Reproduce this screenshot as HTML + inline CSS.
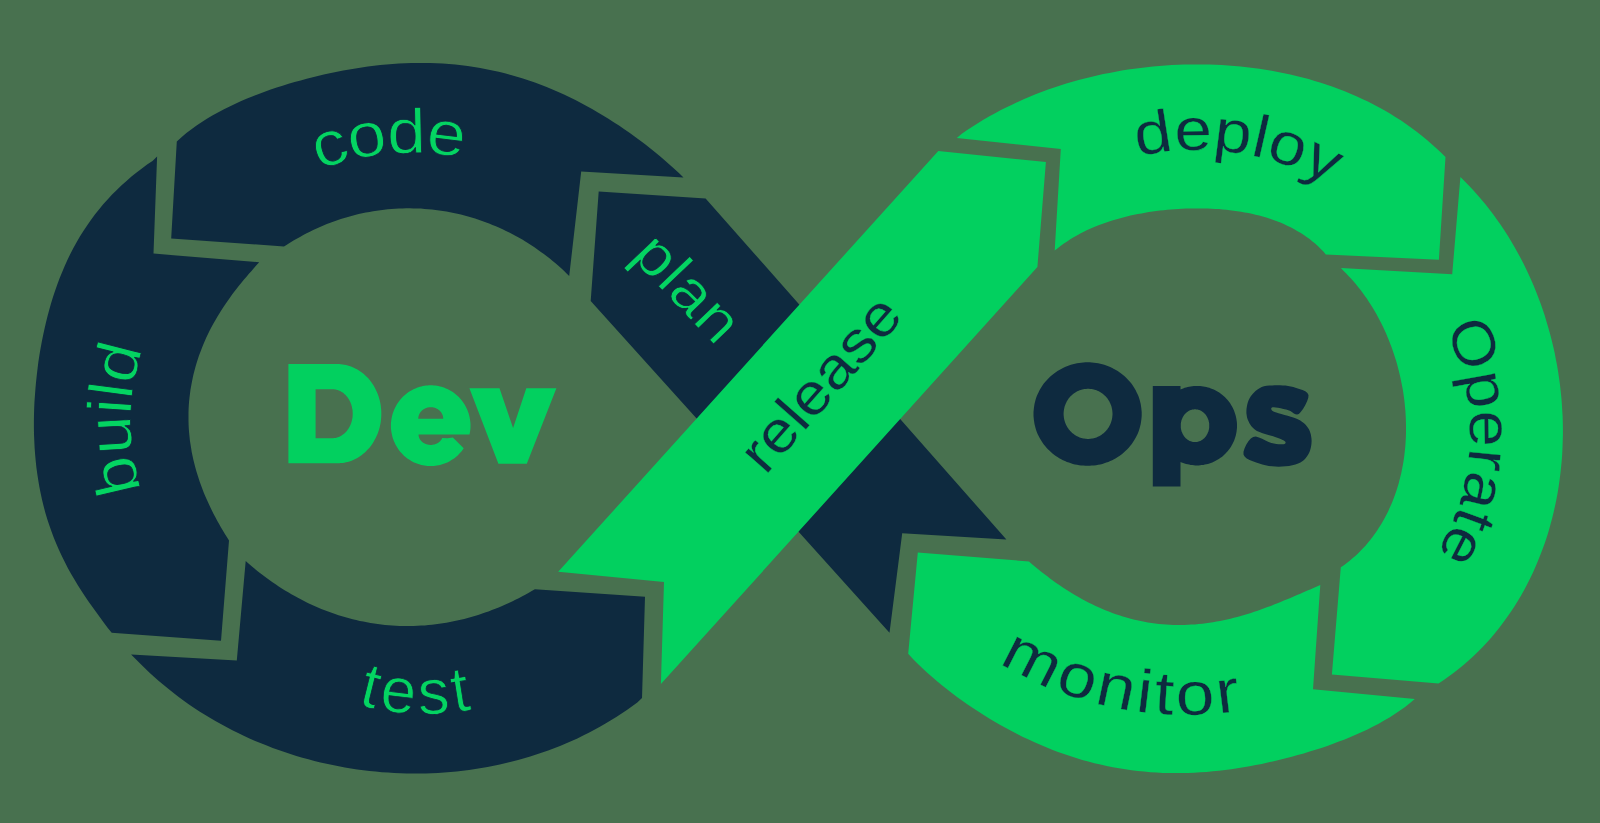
<!DOCTYPE html>
<html><head><meta charset="utf-8"><style>
html,body{margin:0;padding:0;background:#48714f;width:1600px;height:823px;overflow:hidden}
svg{display:block;font-family:"Liberation Sans",sans-serif}
</style></head><body>
<svg width="1600" height="823" viewBox="0 0 1600 823">
<rect width="1600" height="823" fill="#48714f"/>
<path fill="#0e2a3f" d="M157.1 156.4 L153.5 253.6 L259.2 262.3 L256.6 265.1 L254 268 L251.5 270.9 L248.9 273.7 L246.5 276.7 L244 279.6 L241.6 282.5 L239.1 285.5 L236.8 288.5 L234.4 291.6 L232.1 294.6 L229.9 297.7 L227.6 300.9 L225.5 304 L223.3 307.2 L221.2 310.5 L219.2 313.7 L217.2 317 L215.2 320.4 L213.3 323.7 L211.5 327.1 L209.7 330.6 L208 334 L206.3 337.6 L204.8 341.1 L203.2 344.7 L201.8 348.3 L200.4 351.9 L199 355.6 L197.8 359.3 L196.6 363 L195.5 366.7 L194.5 370.5 L193.5 374.3 L192.7 378.1 L191.9 381.9 L191.2 385.8 L190.5 389.6 L190 393.5 L189.5 397.4 L189.1 401.3 L188.8 405.2 L188.6 409.1 L188.5 413 L188.5 416.9 L188.5 420.9 L188.6 424.8 L188.8 428.7 L189.1 432.6 L189.5 436.5 L189.9 440.4 L190.5 444.2 L191.1 448.1 L191.7 451.9 L192.5 455.8 L193.3 459.6 L194.3 463.4 L195.2 467.1 L196.3 470.9 L197.4 474.6 L198.6 478.3 L199.8 482 L201.1 485.6 L202.5 489.3 L203.9 492.9 L205.4 496.4 L207 500 L208.6 503.5 L210.2 507 L211.9 510.5 L213.6 513.9 L215.4 517.3 L217.2 520.7 L219.1 524.1 L221 527.4 L223 530.7 L224.9 534 L227 537.3 L229 540.6 L221 640.7 L111.7 632.7 L107.6 627.7 L103.7 622.5 L99.9 617.3 L96.1 612 L92.3 606.7 L88.5 601.4 L84.8 596 L81.2 590.5 L77.7 585 L74.3 579.3 L71 573.7 L67.8 567.9 L64.8 562 L61.8 556.1 L59 550.1 L56.4 544.1 L53.9 538 L51.6 531.8 L49.4 525.5 L47.3 519.2 L45.4 512.9 L43.7 506.5 L42.1 500 L40.7 493.5 L39.4 487 L38.3 480.5 L37.3 473.9 L36.4 467.4 L35.7 460.8 L35.1 454.2 L34.6 447.6 L34.3 440.9 L34 434.3 L33.9 427.7 L33.9 421.1 L34 414.5 L34.2 407.8 L34.5 401.2 L35 394.6 L35.5 388 L36.1 381.4 L36.8 374.9 L37.6 368.3 L38.4 361.7 L39.4 355.2 L40.5 348.7 L41.7 342.2 L43 335.7 L44.4 329.2 L45.9 322.7 L47.5 316.3 L49.2 309.9 L51 303.5 L53 297.1 L55.1 290.8 L57.3 284.6 L59.6 278.3 L62.1 272.2 L64.7 266.1 L67.4 260 L70.3 254 L73.4 248.1 L76.6 242.3 L79.9 236.6 L83.4 230.9 L87.1 225.4 L90.9 219.9 L94.9 214.6 L99 209.4 L103.2 204.3 L107.6 199.4 L112.1 194.5 L116.8 189.9 L121.6 185.3 L126.5 180.9 L131.5 176.6 L136.6 172.5 L141.9 168.5 L147.1 164.6 L152.5 160.9 Z"/>
<path fill="#0e2a3f" d="M284 246.5 L171.2 238.5 L176.8 141.5 L181.5 137.2 L186.4 133.1 L191.5 129.2 L196.6 125.5 L201.9 121.9 L207.3 118.5 L212.8 115.3 L218.4 112.2 L224 109.2 L229.7 106.4 L235.4 103.7 L241.2 101.1 L247.1 98.6 L252.9 96.2 L258.8 93.9 L264.7 91.7 L270.7 89.6 L276.7 87.6 L282.6 85.7 L288.6 83.8 L294.6 82.1 L300.7 80.4 L306.7 78.8 L312.8 77.2 L318.8 75.7 L324.9 74.3 L331 73 L337.1 71.7 L343.2 70.6 L349.4 69.5 L355.5 68.4 L361.7 67.5 L367.9 66.6 L374.1 65.8 L380.3 65.1 L386.5 64.5 L392.7 64 L398.9 63.6 L405.2 63.3 L411.4 63.1 L417.7 63 L423.9 63 L430.2 63.1 L436.5 63.3 L442.7 63.6 L449 64 L455.3 64.6 L461.5 65.3 L467.7 66.1 L474 67 L480.2 68 L486.3 69.2 L492.5 70.4 L498.7 71.8 L504.8 73.3 L510.9 75 L516.9 76.7 L522.9 78.6 L528.9 80.5 L534.9 82.6 L540.8 84.8 L546.6 87.1 L552.5 89.5 L558.3 92 L564 94.6 L569.7 97.3 L575.4 100.1 L581 103 L586.5 106 L592.1 109.1 L597.5 112.2 L603 115.5 L608.4 118.8 L613.7 122.2 L619 125.6 L624.3 129.2 L629.5 132.8 L634.6 136.5 L639.7 140.3 L644.8 144.1 L649.8 148 L654.8 152 L659.7 156 L664.6 160.2 L669.4 164.4 L674.2 168.7 L678.9 173 L683.5 177.5 L581.2 171.4 L569.2 276.1 L566.6 273.4 L563.9 270.8 L561.2 268.3 L558.4 265.8 L555.5 263.3 L552.7 261 L549.8 258.6 L546.8 256.3 L543.9 254.1 L540.9 251.9 L537.8 249.7 L534.8 247.6 L531.7 245.5 L528.6 243.5 L525.4 241.6 L522.3 239.6 L519.1 237.8 L515.8 236 L512.6 234.2 L509.3 232.5 L506 230.9 L502.6 229.3 L499.3 227.8 L495.9 226.3 L492.5 224.9 L489.1 223.5 L485.6 222.2 L482.1 220.9 L478.6 219.7 L475.1 218.6 L471.6 217.5 L468.1 216.5 L464.5 215.5 L460.9 214.6 L457.4 213.8 L453.7 213 L450.1 212.2 L446.5 211.6 L442.9 211 L439.2 210.4 L435.6 209.9 L431.9 209.5 L428.2 209.2 L424.6 208.9 L420.9 208.6 L417.2 208.5 L413.5 208.4 L409.8 208.3 L406.1 208.3 L402.5 208.4 L398.8 208.5 L395.1 208.7 L391.4 209 L387.7 209.3 L384.1 209.7 L380.4 210.2 L376.7 210.7 L373.1 211.2 L369.5 211.9 L365.8 212.6 L362.2 213.3 L358.6 214.1 L355 215 L351.4 215.9 L347.9 216.9 L344.3 218 L340.8 219.1 L337.3 220.3 L333.8 221.5 L330.3 222.8 L326.8 224.1 L323.4 225.5 L320 227 L316.6 228.5 L313.2 230.1 L309.9 231.7 L306.6 233.3 L303.3 235.1 L300 236.9 L296.7 238.7 L293.5 240.6 L290.3 242.5 L287.2 244.5 Z"/>
<path fill="#0e2a3f" d="M131.1 654.4 L236.8 660.4 L245.7 561 L248.5 563.6 L251.4 566.1 L254.4 568.5 L257.3 570.9 L260.3 573.3 L263.3 575.6 L266.3 577.8 L269.4 580 L272.5 582.2 L275.6 584.3 L278.7 586.4 L281.8 588.4 L285 590.4 L288.2 592.3 L291.4 594.2 L294.7 596.1 L297.9 597.8 L301.2 599.6 L304.5 601.3 L307.8 602.9 L311.1 604.5 L314.5 606 L317.9 607.5 L321.3 608.9 L324.7 610.2 L328.1 611.6 L331.6 612.8 L335.1 614 L338.5 615.2 L342 616.2 L345.5 617.3 L349.1 618.3 L352.6 619.2 L356.2 620 L359.7 620.9 L363.3 621.6 L366.9 622.3 L370.5 622.9 L374.1 623.5 L377.7 624 L381.3 624.5 L384.9 624.9 L388.5 625.2 L392.1 625.5 L395.8 625.7 L399.4 625.9 L403 626 L406.7 626 L410.3 626 L413.9 625.9 L417.6 625.8 L421.2 625.6 L424.8 625.4 L428.4 625.1 L432 624.7 L435.6 624.3 L439.2 623.8 L442.8 623.3 L446.4 622.7 L450 622 L453.5 621.3 L457.1 620.6 L460.6 619.8 L464.2 618.9 L467.7 618 L471.2 617 L474.7 616 L478.1 614.9 L481.6 613.8 L485.1 612.6 L488.5 611.4 L491.9 610.1 L495.3 608.8 L498.7 607.4 L502.1 606 L505.4 604.5 L508.8 603 L512.1 601.4 L515.4 599.8 L518.7 598.2 L521.9 596.5 L525.2 594.7 L528.4 592.9 L531.7 591.1 L534.9 589.2 L645 596.8 L642 698.1 L637.3 702.4 L632.1 706.2 L626.9 709.9 L621.6 713.4 L616.3 716.9 L610.9 720.3 L605.5 723.6 L599.9 726.7 L594.4 729.8 L588.8 732.8 L583.1 735.6 L577.4 738.4 L571.6 741 L565.8 743.5 L560 746 L554.1 748.3 L548.2 750.5 L542.2 752.6 L536.2 754.6 L530.2 756.5 L524.2 758.3 L518.1 760 L512.1 761.6 L506 763.1 L499.8 764.5 L493.7 765.8 L487.5 767 L481.4 768.1 L475.2 769.1 L469 769.9 L462.8 770.7 L456.6 771.4 L450.4 772 L444.1 772.5 L437.9 772.9 L431.7 773.2 L425.5 773.4 L419.2 773.5 L413 773.5 L406.8 773.4 L400.6 773.3 L394.3 773 L388.1 772.6 L381.9 772.2 L375.7 771.6 L369.5 770.9 L363.4 770.2 L357.2 769.4 L351 768.4 L344.9 767.4 L338.8 766.3 L332.7 765.1 L326.6 763.8 L320.5 762.4 L314.4 760.9 L308.4 759.3 L302.4 757.7 L296.4 755.9 L290.4 754 L284.5 752.1 L278.6 750 L272.7 747.9 L266.8 745.6 L261 743.3 L255.2 740.9 L249.5 738.4 L243.7 735.8 L238.1 733 L232.4 730.2 L226.8 727.3 L221.3 724.3 L215.8 721.2 L210.3 718.1 L204.9 714.8 L199.5 711.4 L194.2 707.9 L189 704.4 L183.8 700.7 L178.7 696.9 L173.6 693.1 L168.6 689.1 L163.7 685.1 L158.8 681 L154 676.8 L149.3 672.4 L144.7 668 L140.1 663.5 L135.6 659 Z"/>
<path fill="#0e2a3f" d="M598.7 191.5 L705.6 198.4 L1006.4 539.5 L902.2 533.2 L889.5 632.7 L590.7 300.9 Z"/>
<path fill="#02d05f" d="M938.3 150.9 L1045.9 162.1 L1037.4 267 L660.9 684.1 L664 582 L558.2 571.8 Z"/>
<path fill="#02d05f" d="M956.8 137.9 L1060.8 149 L1054.7 250.6 L1057.7 248.2 L1060.8 245.8 L1063.9 243.5 L1067.1 241.4 L1070.3 239.3 L1073.6 237.3 L1076.9 235.4 L1080.3 233.5 L1083.8 231.8 L1087.2 230.1 L1090.7 228.5 L1094.2 227 L1097.8 225.5 L1101.3 224.2 L1104.9 222.9 L1108.5 221.7 L1112.2 220.5 L1115.8 219.4 L1119.4 218.4 L1123.1 217.4 L1126.8 216.5 L1130.4 215.6 L1134.1 214.8 L1137.8 214.1 L1141.5 213.4 L1145.1 212.7 L1148.8 212.1 L1152.5 211.6 L1156.2 211.1 L1159.9 210.6 L1163.6 210.2 L1167.3 209.8 L1170.9 209.5 L1174.6 209.2 L1178.3 209 L1182 208.8 L1185.7 208.6 L1189.4 208.5 L1193.1 208.4 L1196.8 208.4 L1200.4 208.4 L1204.1 208.5 L1207.8 208.6 L1211.5 208.7 L1215.2 208.9 L1218.9 209.1 L1222.6 209.4 L1226.3 209.8 L1229.9 210.2 L1233.6 210.7 L1237.3 211.2 L1241 211.7 L1244.6 212.4 L1248.3 213.1 L1251.9 213.8 L1255.5 214.7 L1259.2 215.6 L1262.7 216.6 L1266.3 217.6 L1269.9 218.8 L1273.4 220 L1276.9 221.3 L1280.4 222.6 L1283.8 224.1 L1287.2 225.7 L1290.6 227.3 L1293.9 229 L1297.1 230.9 L1300.4 232.8 L1303.5 234.8 L1306.6 236.9 L1309.6 239.1 L1312.5 241.4 L1315.4 243.8 L1318.1 246.3 L1320.8 248.9 L1323.4 251.6 L1325.8 254.5 L1438.9 259.7 L1445.5 157 L1440.9 152.6 L1436.3 148.2 L1431.5 143.9 L1426.7 139.7 L1421.8 135.7 L1416.7 131.7 L1411.6 127.9 L1406.4 124.2 L1401.1 120.6 L1395.7 117.2 L1390.3 113.8 L1384.8 110.6 L1379.2 107.5 L1373.6 104.5 L1367.9 101.6 L1362.2 98.9 L1356.4 96.2 L1350.5 93.7 L1344.7 91.3 L1338.7 89 L1332.8 86.8 L1326.8 84.7 L1320.8 82.8 L1314.7 80.9 L1308.6 79.1 L1302.5 77.5 L1296.4 75.9 L1290.3 74.5 L1284.1 73.2 L1277.9 71.9 L1271.7 70.8 L1265.5 69.7 L1259.3 68.8 L1253.1 67.9 L1246.8 67.2 L1240.6 66.5 L1234.4 65.9 L1228.1 65.5 L1221.8 65.1 L1215.6 64.8 L1209.3 64.6 L1203.1 64.4 L1196.8 64.4 L1190.5 64.4 L1184.3 64.6 L1178 64.8 L1171.8 65.1 L1165.5 65.5 L1159.2 66 L1153 66.5 L1146.7 67.2 L1140.5 67.9 L1134.3 68.7 L1128 69.6 L1121.8 70.6 L1115.6 71.7 L1109.4 72.9 L1103.2 74.1 L1097 75.5 L1090.9 76.9 L1084.7 78.4 L1078.6 80.1 L1072.4 81.8 L1066.3 83.6 L1060.2 85.5 L1054.2 87.5 L1048.1 89.6 L1042.1 91.8 L1036.1 94.1 L1030.2 96.5 L1024.2 99 L1018.3 101.7 L1012.5 104.4 L1006.6 107.2 L1000.9 110.1 L995.1 113.2 L989.4 116.3 L983.8 119.6 L978.2 123 L972.7 126.5 L967.2 130 L961.8 133.8 Z"/>
<path fill="#02d05f" d="M1341 268 L1452.2 274.3 L1460.4 177 L1464.9 181.4 L1469.3 185.9 L1473.5 190.5 L1477.7 195.2 L1481.8 199.9 L1485.8 204.8 L1489.7 209.7 L1493.5 214.8 L1497.2 219.9 L1500.8 225 L1504.3 230.3 L1507.7 235.6 L1511 241 L1514.2 246.4 L1517.3 251.9 L1520.3 257.5 L1523.2 263.1 L1526 268.8 L1528.7 274.5 L1531.3 280.3 L1533.8 286.1 L1536.2 291.9 L1538.5 297.9 L1540.7 303.8 L1542.8 309.8 L1544.8 315.8 L1546.6 321.9 L1548.4 328 L1550.1 334.1 L1551.7 340.2 L1553.2 346.4 L1554.6 352.6 L1555.8 358.9 L1557 365.1 L1558.1 371.4 L1559 377.7 L1559.9 384 L1560.6 390.4 L1561.3 396.7 L1561.8 403.1 L1562.2 409.4 L1562.6 415.8 L1562.8 422.2 L1562.9 428.6 L1562.9 435 L1562.7 441.4 L1562.5 447.8 L1562.2 454.2 L1561.7 460.7 L1561.1 467.1 L1560.4 473.4 L1559.6 479.8 L1558.7 486.2 L1557.7 492.5 L1556.5 498.9 L1555.2 505.2 L1553.8 511.5 L1552.3 517.7 L1550.6 524 L1548.9 530.2 L1547 536.4 L1545 542.5 L1542.8 548.6 L1540.5 554.6 L1538.1 560.6 L1535.6 566.6 L1533 572.5 L1530.2 578.3 L1527.3 584.1 L1524.3 589.8 L1521.1 595.4 L1517.8 600.9 L1514.4 606.4 L1510.9 611.8 L1507.2 617.1 L1503.4 622.3 L1499.5 627.5 L1495.5 632.5 L1491.4 637.4 L1487.1 642.2 L1482.7 646.9 L1478.2 651.5 L1473.6 655.9 L1468.9 660.3 L1464.1 664.5 L1459.2 668.5 L1454.1 672.5 L1449 676.2 L1443.8 679.9 L1438.5 683.4 L1331.9 674.4 L1340.8 567.2 L1343.9 565.2 L1346.8 563 L1349.7 560.7 L1352.5 558.3 L1355.3 555.9 L1358 553.4 L1360.6 550.8 L1363.2 548.1 L1365.7 545.4 L1368.1 542.6 L1370.4 539.7 L1372.7 536.8 L1374.9 533.8 L1377 530.7 L1379 527.6 L1381 524.5 L1382.9 521.3 L1384.7 518 L1386.4 514.7 L1388.1 511.4 L1389.6 508.1 L1391.1 504.7 L1392.6 501.2 L1393.9 497.8 L1395.2 494.3 L1396.4 490.8 L1397.5 487.3 L1398.6 483.7 L1399.5 480.1 L1400.4 476.5 L1401.3 472.9 L1402 469.3 L1402.7 465.7 L1403.4 462 L1403.9 458.4 L1404.4 454.7 L1404.8 451.1 L1405.2 447.4 L1405.5 443.7 L1405.7 440.1 L1405.9 436.4 L1406 432.7 L1406 429.1 L1406 425.4 L1405.9 421.8 L1405.8 418.1 L1405.6 414.4 L1405.4 410.8 L1405 407.2 L1404.7 403.5 L1404.3 399.9 L1403.8 396.3 L1403.3 392.7 L1402.7 389.1 L1402 385.5 L1401.3 382 L1400.6 378.4 L1399.8 374.9 L1398.9 371.3 L1398 367.8 L1397.1 364.3 L1396.1 360.8 L1395 357.4 L1393.9 353.9 L1392.7 350.5 L1391.5 347.1 L1390.2 343.7 L1388.9 340.3 L1387.5 336.9 L1386.1 333.6 L1384.6 330.3 L1383.1 327 L1381.5 323.7 L1379.8 320.5 L1378.1 317.3 L1376.4 314.1 L1374.6 310.9 L1372.7 307.8 L1370.8 304.7 L1368.8 301.7 L1366.8 298.6 L1364.7 295.7 L1362.6 292.7 L1360.4 289.8 L1358.1 286.9 L1355.8 284.1 L1353.4 281.3 L1351 278.6 L1348.5 275.9 L1346 273.3 L1343.4 270.8 Z"/>
<path fill="#02d05f" d="M1029 561.5 L917.8 552.4 L908.2 653.7 L912.5 658.6 L917.2 663.3 L921.9 667.8 L926.7 672.3 L931.6 676.6 L936.5 680.8 L941.6 685 L946.7 689.1 L951.8 693 L957 696.9 L962.3 700.7 L967.6 704.4 L972.9 708 L978.3 711.6 L983.7 715.1 L989.2 718.4 L994.7 721.7 L1000.3 724.9 L1005.9 728 L1011.5 731.1 L1017.2 734 L1022.9 736.9 L1028.7 739.6 L1034.5 742.3 L1040.3 744.8 L1046.2 747.3 L1052.1 749.7 L1058 751.9 L1064 754.1 L1070 756.1 L1076.1 758 L1082.2 759.9 L1088.3 761.6 L1094.4 763.2 L1100.5 764.6 L1106.7 766 L1112.9 767.2 L1119.1 768.3 L1125.3 769.3 L1131.6 770.2 L1137.8 771 L1144.1 771.6 L1150.4 772.2 L1156.6 772.6 L1162.9 772.9 L1169.1 773 L1175.4 773.1 L1181.7 773.1 L1187.9 772.9 L1194.1 772.7 L1200.4 772.3 L1206.6 771.9 L1212.8 771.3 L1218.9 770.7 L1225.1 770 L1231.3 769.2 L1237.4 768.3 L1243.5 767.3 L1249.6 766.2 L1255.7 765.1 L1261.7 763.9 L1267.8 762.6 L1273.8 761.2 L1279.8 759.8 L1285.8 758.3 L1291.8 756.7 L1297.7 755.1 L1303.7 753.4 L1309.6 751.6 L1315.5 749.8 L1321.4 747.9 L1327.3 745.9 L1333.1 743.8 L1338.9 741.6 L1344.7 739.4 L1350.5 737 L1356.2 734.6 L1361.9 732 L1367.5 729.4 L1373.1 726.6 L1378.7 723.7 L1384.1 720.6 L1389.5 717.4 L1394.8 714.1 L1400 710.6 L1405.1 707 L1410 703.1 L1414.8 699.1 L1313 689.2 L1320.3 585 L1316.9 586.4 L1313.5 587.9 L1310.2 589.4 L1306.8 590.8 L1303.5 592.3 L1300.3 593.7 L1297 595.1 L1293.7 596.5 L1290.4 597.9 L1287.2 599.3 L1283.9 600.6 L1280.6 602 L1277.4 603.3 L1274.1 604.6 L1270.8 605.9 L1267.5 607.1 L1264.2 608.3 L1260.9 609.5 L1257.6 610.7 L1254.2 611.8 L1250.9 612.9 L1247.5 614 L1244.1 615 L1240.7 616 L1237.3 616.9 L1233.9 617.8 L1230.5 618.7 L1227 619.5 L1223.5 620.2 L1220 621 L1216.5 621.6 L1213 622.2 L1209.4 622.8 L1205.9 623.3 L1202.3 623.7 L1198.7 624.1 L1195.1 624.4 L1191.5 624.6 L1187.9 624.8 L1184.3 624.9 L1180.6 625 L1177 625 L1173.4 624.9 L1169.7 624.8 L1166.1 624.5 L1162.4 624.2 L1158.8 623.9 L1155.2 623.5 L1151.5 623 L1147.9 622.4 L1144.3 621.8 L1140.7 621 L1137.1 620.3 L1133.5 619.4 L1129.9 618.5 L1126.4 617.5 L1122.8 616.5 L1119.3 615.3 L1115.8 614.2 L1112.3 612.9 L1108.8 611.6 L1105.3 610.2 L1101.9 608.8 L1098.5 607.3 L1095.1 605.7 L1091.7 604.1 L1088.4 602.4 L1085.1 600.7 L1081.8 598.9 L1078.5 597.1 L1075.3 595.2 L1072 593.3 L1068.8 591.3 L1065.6 589.2 L1062.5 587.2 L1059.3 585 L1056.2 582.9 L1053.1 580.7 L1050 578.4 L1047 576.1 L1043.9 573.8 L1040.9 571.4 L1037.9 569 L1034.8 566.6 L1031.8 564.1 Z"/>
<text fill="#04d462" stroke="#0e2a3f" stroke-width="0.8" font-size="62.8" transform="translate(318.62 169.48) rotate(-16.86) scale(1.11 1)">c</text>
<text fill="#04d462" stroke="#0e2a3f" stroke-width="0.8" font-size="62.8" transform="translate(350.61 159.56) rotate(-9.24) scale(1.11 1)">o</text>
<text fill="#04d462" stroke="#0e2a3f" stroke-width="0.8" font-size="62.8" transform="translate(387.51 153.46) rotate(-1.19) scale(1.11 1)">d</text>
<text fill="#04d462" stroke="#0e2a3f" stroke-width="0.8" font-size="62.8" transform="translate(424.91 152.59) rotate(6.86) scale(1.11 1)">e</text>
<text fill="#04d462" stroke="#0e2a3f" stroke-width="0.8" font-size="62" transform="translate(140.9 490.53) rotate(-103.18) scale(1.12 1)">b</text>
<text fill="#04d462" stroke="#0e2a3f" stroke-width="0.8" font-size="62" transform="translate(132.15 453.37) rotate(-93.24) scale(1.12 1)">u</text>
<text fill="#04d462" stroke="#0e2a3f" stroke-width="0.8" font-size="62" transform="translate(130.65 415.32) rotate(-86.34) scale(1.12 1)">i</text>
<text fill="#04d462" stroke="#0e2a3f" stroke-width="0.8" font-size="62" transform="translate(131.58 400.54) rotate(-82.48) scale(1.12 1)">l</text>
<text fill="#04d462" stroke="#0e2a3f" stroke-width="0.8" font-size="62" transform="translate(132.79 385.69) rotate(-75.58) scale(1.12 1)">d</text>
<text fill="#04d462" stroke="#0e2a3f" stroke-width="0.8" font-size="64.2" transform="translate(357.53 704.76) rotate(13.96) scale(0.99 1)">t</text>
<text fill="#04d462" stroke="#0e2a3f" stroke-width="0.8" font-size="64.2" transform="translate(378.83 710.36) rotate(6.7) scale(0.99 1)">e</text>
<text fill="#04d462" stroke="#0e2a3f" stroke-width="0.8" font-size="64.2" transform="translate(418.4 714.54) rotate(-2.23) scale(0.99 1)">s</text>
<text fill="#04d462" stroke="#0e2a3f" stroke-width="0.8" font-size="64.2" transform="translate(454.5 712.46) rotate(-9.06) scale(0.99 1)">t</text>
<text fill="#0e2a3f" stroke="#02d05f" stroke-width="0.3" font-size="59.6" transform="translate(1137.37 156.04) rotate(-8.9) scale(1.13 1)">d</text>
<text fill="#0e2a3f" stroke="#02d05f" stroke-width="0.3" font-size="59.6" transform="translate(1174.63 150.22) rotate(-0.87) scale(1.13 1)">e</text>
<text fill="#0e2a3f" stroke="#02d05f" stroke-width="0.3" font-size="59.6" transform="translate(1212.33 149.65) rotate(7.16) scale(1.13 1)">p</text>
<text fill="#0e2a3f" stroke="#02d05f" stroke-width="0.3" font-size="59.6" transform="translate(1249.61 154.89) rotate(12.78) scale(1.13 1)">l</text>
<text fill="#0e2a3f" stroke="#02d05f" stroke-width="0.3" font-size="59.6" transform="translate(1264.48 157.7) rotate(18.4) scale(1.13 1)">o</text>
<text fill="#0e2a3f" stroke="#02d05f" stroke-width="0.3" font-size="59.6" transform="translate(1300.2 169.73) rotate(26.02) scale(1.13 1)">y</text>
<text fill="#0e2a3f" stroke="#02d05f" stroke-width="0.3" font-size="59.6" transform="translate(1445.43 327) rotate(68.91) scale(1.1 1)">O</text>
<text fill="#0e2a3f" stroke="#02d05f" stroke-width="0.3" font-size="59.6" transform="translate(1463.14 374.86) rotate(79.8) scale(1.1 1)">p</text>
<text fill="#0e2a3f" stroke="#02d05f" stroke-width="0.3" font-size="59.6" transform="translate(1469.6 410.8) rotate(88.88) scale(1.1 1)">e</text>
<text fill="#0e2a3f" stroke="#02d05f" stroke-width="0.3" font-size="59.6" transform="translate(1469.85 447.25) rotate(96.14) scale(1.1 1)">r</text>
<text fill="#0e2a3f" stroke="#02d05f" stroke-width="0.3" font-size="59.6" transform="translate(1467.96 469.06) rotate(103.4) scale(1.1 1)">a</text>
<text fill="#0e2a3f" stroke="#02d05f" stroke-width="0.3" font-size="59.6" transform="translate(1458.99 504.38) rotate(110.21) scale(1.1 1)">t</text>
<text fill="#0e2a3f" stroke="#02d05f" stroke-width="0.3" font-size="59.6" transform="translate(1453.18 521.72) rotate(117.02) scale(1.1 1)">e</text>
<text fill="#0e2a3f" stroke="#02d05f" stroke-width="0.3" font-size="60.9" transform="translate(998.34 663.15) rotate(26.92) scale(1.14 1)">m</text>
<text fill="#0e2a3f" stroke="#02d05f" stroke-width="0.3" font-size="60.9" transform="translate(1053.52 690.12) rotate(18.6) scale(1.14 1)">o</text>
<text fill="#0e2a3f" stroke="#02d05f" stroke-width="0.3" font-size="60.9" transform="translate(1093.52 703.36) rotate(11.83) scale(1.14 1)">n</text>
<text fill="#0e2a3f" stroke="#02d05f" stroke-width="0.3" font-size="60.9" transform="translate(1134.85 711.36) rotate(6.93) scale(1.14 1)">i</text>
<text fill="#0e2a3f" stroke="#02d05f" stroke-width="0.3" font-size="60.9" transform="translate(1153.55 713.6) rotate(3.59) scale(1.14 1)">t</text>
<text fill="#0e2a3f" stroke="#02d05f" stroke-width="0.3" font-size="60.9" transform="translate(1176.23 715.31) rotate(-1.62) scale(1.14 1)">o</text>
<text fill="#0e2a3f" stroke="#02d05f" stroke-width="0.3" font-size="60.9" transform="translate(1218.29 713.58) rotate(-7.14) scale(1.14 1)">r</text>
<text fill="#04d462" stroke="#0e2a3f" stroke-width="0.8" font-size="59.7" transform="translate(629.69 256.17) rotate(46.3) scale(1.1 1)">p</text>
<text fill="#04d462" stroke="#0e2a3f" stroke-width="0.8" font-size="59.7" transform="translate(655.27 282.95) rotate(46.3) scale(1.1 1)">l</text>
<text fill="#04d462" stroke="#0e2a3f" stroke-width="0.8" font-size="59.7" transform="translate(665.72 293.87) rotate(46.3) scale(1.1 1)">a</text>
<text fill="#04d462" stroke="#0e2a3f" stroke-width="0.8" font-size="59.7" transform="translate(691.3 320.65) rotate(46.3) scale(1.1 1)">n</text>
<text fill="#0e2a3f" stroke="#02d05f" stroke-width="0.3" font-size="58.1" transform="translate(765.16 475.98) rotate(-48.69) scale(1.11 1)">r</text>
<text fill="#0e2a3f" stroke="#02d05f" stroke-width="0.3" font-size="58.1" transform="translate(779.36 459.82) rotate(-48.69) scale(1.11 1)">e</text>
<text fill="#0e2a3f" stroke="#02d05f" stroke-width="0.3" font-size="58.1" transform="translate(803.08 432.83) rotate(-48.69) scale(1.11 1)">l</text>
<text fill="#0e2a3f" stroke="#02d05f" stroke-width="0.3" font-size="58.1" transform="translate(812.56 422.05) rotate(-48.69) scale(1.11 1)">e</text>
<text fill="#0e2a3f" stroke="#02d05f" stroke-width="0.3" font-size="58.1" transform="translate(836.28 395.06) rotate(-48.69) scale(1.11 1)">a</text>
<text fill="#0e2a3f" stroke="#02d05f" stroke-width="0.3" font-size="58.1" transform="translate(860 368.07) rotate(-48.69) scale(1.11 1)">s</text>
<text fill="#0e2a3f" stroke="#02d05f" stroke-width="0.3" font-size="58.1" transform="translate(881.32 343.81) rotate(-48.69) scale(1.11 1)">e</text>
<path fill="#02d05f" d="M344.4 462.7 L346 462.3 L347.7 461.9 L349.4 461.4 L351 460.9 L352.7 460.2 L354.3 459.5 L355.8 458.7 L357.4 457.9 L358.9 457 L360.4 456 L361.8 454.9 L363.2 453.8 L364.6 452.7 L365.9 451.4 L367.2 450.1 L368.5 448.8 L369.7 447.4 L370.8 445.9 L371.9 444.4 L372.9 442.9 L373.9 441.3 L374.8 439.6 L375.7 437.9 L376.5 436.2 L377.3 434.5 L378 432.7 L378.6 430.9 L379.2 429 L379.7 427.2 L380.1 425.3 L380.5 423.4 L380.8 421.5 L381 419.5 L381.2 417.6 L381.3 415.6 L381.3 413.7 L381.3 411.8 L381.2 409.8 L381 407.9 L380.8 405.9 L380.5 404 L380.1 402.1 L379.7 400.2 L379.2 398.4 L378.6 396.5 L378 394.7 L377.3 392.9 L376.5 391.2 L375.7 389.5 L374.8 387.8 L373.9 386.1 L372.9 384.5 L371.9 383 L370.8 381.5 L369.7 380 L368.5 378.6 L367.2 377.3 L365.9 376 L364.6 374.7 L363.2 373.6 L361.8 372.5 L360.4 371.4 L358.9 370.4 L357.4 369.5 L355.8 368.7 L354.3 367.9 L352.7 367.2 L351 366.5 L349.4 366 L347.7 365.5 L346 365.1 L344.4 364.7 L342.6 364.4 L340.9 364.3 L339.2 364.1 L337.5 364.1 L337.5 364.1 L288.4 364.1 L288.4 463.3 L337.5 463.3 L339.2 463.3 L340.9 463.1 L342.6 463ZM333.2 389.2 L334 389.3 L334.8 389.4 L335.6 389.5 L336.4 389.7 L337.1 389.9 L337.9 390.1 L338.7 390.4 L339.4 390.7 L340.2 391.1 L340.9 391.5 L341.6 391.9 L342.3 392.3 L343 392.8 L343.7 393.3 L344.3 393.9 L345 394.5 L345.6 395.1 L346.2 395.7 L346.8 396.4 L347.3 397.1 L347.8 397.8 L348.3 398.5 L348.8 399.3 L349.3 400.1 L349.7 400.9 L350.1 401.7 L350.5 402.6 L350.8 403.4 L351.2 404.3 L351.4 405.2 L351.7 406.1 L351.9 407 L352.1 408 L352.3 408.9 L352.5 409.9 L352.6 410.8 L352.6 411.8 L352.7 412.7 L352.7 413.7 L352.7 414.7 L352.6 415.6 L352.6 416.6 L352.5 417.5 L352.3 418.5 L352.1 419.4 L351.9 420.4 L351.7 421.3 L351.4 422.2 L351.2 423.1 L350.8 424 L350.5 424.8 L350.1 425.7 L349.7 426.5 L349.3 427.3 L348.8 428.1 L348.3 428.9 L347.8 429.6 L347.3 430.3 L346.8 431 L346.2 431.7 L345.6 432.3 L345 432.9 L344.3 433.5 L343.7 434.1 L343 434.6 L342.3 435.1 L341.6 435.5 L340.9 435.9 L340.2 436.3 L339.4 436.7 L338.7 437 L337.9 437.3 L337.1 437.5 L336.4 437.7 L335.6 437.9 L334.8 438 L334 438.1 L333.2 438.2 L332.4 438.2 L315.6 438.2 L315.6 389.2 L332.4 389.2ZM470 419.4 L469.7 417.8 L469.4 416.3 L469 414.7 L468.6 413.2 L468 411.7 L467.5 410.2 L466.8 408.8 L466.2 407.4 L465.4 406 L464.6 404.6 L463.8 403.3 L462.9 402 L462 400.7 L461 399.5 L459.9 398.3 L458.8 397.1 L457.7 396 L456.5 395 L455.3 394 L454.1 393 L452.8 392.1 L451.5 391.3 L450.1 390.5 L448.8 389.7 L447.4 389 L445.9 388.4 L444.5 387.8 L443 387.3 L441.5 386.8 L440 386.4 L438.5 386.1 L436.9 385.8 L435.4 385.6 L433.8 385.4 L432.3 385.3 L430.7 385.3 L429.1 385.3 L427.6 385.4 L426 385.6 L424.5 385.8 L422.9 386.1 L421.4 386.4 L419.9 386.8 L418.4 387.3 L416.9 387.8 L415.5 388.4 L414 389 L412.6 389.7 L411.3 390.5 L409.9 391.3 L408.6 392.1 L407.3 393 L406.1 394 L404.9 395 L403.7 396 L402.6 397.1 L401.5 398.3 L400.4 399.5 L399.4 400.7 L398.5 402 L397.6 403.3 L396.8 404.6 L396 406 L395.2 407.4 L394.6 408.8 L393.9 410.2 L393.4 411.7 L392.8 413.2 L392.4 414.7 L392 416.3 L391.7 417.8 L391.4 419.4 L391.2 421 L391 422.5 L390.9 424.1 L390.9 425.7 L390.9 427.3 L391 428.9 L391.2 430.4 L391.4 432 L391.7 433.6 L392 435.1 L392.4 436.7 L392.8 438.2 L393.4 439.7 L393.9 441.2 L394.6 442.6 L395.2 444 L396 445.4 L396.8 446.8 L397.6 448.1 L398.5 449.4 L399.4 450.7 L400.4 451.9 L401.5 453.1 L402.6 454.3 L403.7 455.4 L404.9 456.4 L406.1 457.4 L407.3 458.4 L408.6 459.3 L409.9 460.1 L411.3 460.9 L412.6 461.7 L414 462.4 L415.5 463 L416.9 463.6 L418.4 464.1 L419.9 464.6 L421.4 465 L422.9 465.3 L424.5 465.6 L426 465.8 L427.6 466 L429.1 466.1 L430.7 466.1 L432.3 466.1 L433.8 466 L435.4 465.8 L436.9 465.6 L438.5 465.3 L440 465 L441.5 464.6 L443 464.1 L444.5 463.6 L445.9 463 L447.4 462.4 L448.8 461.7 L450.1 460.9 L451.5 460.1 L452.8 459.3 L454.1 458.4 L455.3 457.4 L456.5 456.4 L457.7 455.4 L458.8 454.3 L459.9 453.1 L461 451.9 L462 450.7 L462.9 449.4 L463.7 448.2 L452.9 437.6 L447.4 438.2 L442.2 438.1 L442.2 438.1 L442 438.5 L441.8 438.9 L441.6 439.2 L441.4 439.6 L441.2 439.9 L440.9 440.3 L440.6 440.6 L440.3 440.9 L440 441.3 L439.7 441.6 L439.4 441.9 L439 442.1 L438.7 442.4 L438.3 442.7 L437.9 442.9 L437.5 443.1 L437.1 443.4 L436.7 443.6 L436.3 443.8 L435.9 443.9 L435.4 444.1 L435 444.3 L434.5 444.4 L434.1 444.5 L433.6 444.6 L433.1 444.7 L432.7 444.8 L432.2 444.8 L431.7 444.9 L431.2 444.9 L430.8 444.9 L430.3 444.9 L429.8 444.9 L429.3 444.8 L428.8 444.8 L428.4 444.7 L427.9 444.6 L427.4 444.5 L427 444.4 L426.5 444.3 L426.1 444.1 L425.6 443.9 L425.2 443.8 L424.8 443.6 L424.4 443.4 L424 443.1 L423.6 442.9 L423.2 442.7 L422.8 442.4 L422.5 442.1 L422.1 441.9 L421.8 441.6 L421.5 441.3 L421.2 440.9 L420.9 440.6 L420.6 440.3 L420.3 439.9 L420.1 439.6 L419.9 439.2 L419.7 438.9 L419.5 438.5 L419.3 438.1 L419.1 437.7 L419 437.3 L418.9 436.9 L418.8 436.5 L418.7 436.1 L418.6 435.7 L418.6 435.3 L418.6 434.9 L418.6 434.5 L431 434.5 L442.9 434.5 L469.5 434.5 L469.7 433.6 L470 432 L470.2 430.4 L470.4 428.9 L470.5 427.3 L470.5 425.7 L470.5 424.1 L470.4 422.5 L470.2 421ZM418.3 418.2 L418.3 417.8 L418.4 417.3 L418.5 416.9 L418.5 416.5 L418.6 416 L418.8 415.6 L418.9 415.1 L419.1 414.7 L419.2 414.3 L419.4 413.9 L419.7 413.5 L419.9 413.1 L420.1 412.7 L420.4 412.3 L420.7 411.9 L421 411.6 L421.3 411.2 L421.6 410.9 L421.9 410.6 L422.3 410.3 L422.7 410 L423 409.7 L423.4 409.4 L423.8 409.1 L424.2 408.9 L424.7 408.7 L425.1 408.5 L425.5 408.3 L426 408.1 L426.4 407.9 L426.9 407.8 L427.4 407.6 L427.8 407.5 L428.3 407.4 L428.8 407.3 L429.3 407.3 L429.8 407.2 L430.3 407.2 L430.8 407.2 L431.2 407.2 L431.7 407.2 L432.2 407.3 L432.7 407.3 L433.2 407.4 L433.7 407.5 L434.1 407.6 L434.6 407.8 L435.1 407.9 L435.5 408.1 L436 408.3 L436.4 408.5 L436.8 408.7 L437.3 408.9 L437.7 409.1 L438.1 409.4 L438.5 409.7 L438.8 410 L439.2 410.3 L439.6 410.6 L439.9 410.9 L440.2 411.2 L440.5 411.6 L440.8 411.9 L441.1 412.3 L441.4 412.7 L441.6 413.1 L441.8 413.5 L442.1 413.9 L442.3 414.3 L442.4 414.7 L442.6 415.1 L442.7 415.6 L442.9 416 L443 416.5 L443 416.9 L443.1 417.3 L443.2 417.8 L443.2 418.2 L443.2 418.7 L418.3 418.7ZM526.8 463.7 L556.4 388.2 L526.3 388.2 L513.1 428.1 L499.5 388.2 L469.4 388.2 L498.4 463.7Z"/>
<path fill="#0e2a3f" d="M1141.5 410 L1141.3 408 L1141 406 L1140.7 404 L1140.2 402 L1139.7 400 L1139.1 398.1 L1138.4 396.1 L1137.6 394.2 L1136.7 392.4 L1135.8 390.6 L1134.8 388.8 L1133.7 387 L1132.6 385.3 L1131.4 383.6 L1130.1 382 L1128.7 380.4 L1127.3 378.9 L1125.9 377.5 L1124.3 376 L1122.7 374.7 L1121.1 373.4 L1119.4 372.2 L1117.7 371 L1115.9 369.9 L1114 368.9 L1112.2 367.9 L1110.2 367.1 L1108.3 366.2 L1106.3 365.5 L1104.3 364.8 L1102.3 364.2 L1100.2 363.7 L1098.2 363.3 L1096.1 362.9 L1094 362.7 L1091.8 362.5 L1089.7 362.3 L1087.6 362.3 L1085.5 362.3 L1083.4 362.5 L1081.2 362.7 L1079.1 362.9 L1077 363.3 L1075 363.7 L1072.9 364.2 L1070.9 364.8 L1068.9 365.5 L1066.9 366.2 L1065 367.1 L1063 367.9 L1061.2 368.9 L1059.3 369.9 L1057.5 371 L1055.8 372.2 L1054.1 373.4 L1052.5 374.7 L1050.9 376 L1049.3 377.5 L1047.9 378.9 L1046.5 380.4 L1045.1 382 L1043.8 383.6 L1042.6 385.3 L1041.5 387 L1040.4 388.8 L1039.4 390.6 L1038.5 392.4 L1037.6 394.2 L1036.8 396.1 L1036.1 398.1 L1035.5 400 L1035 402 L1034.5 404 L1034.2 406 L1033.9 408 L1033.7 410 L1033.5 412 L1033.5 414.1 L1033.5 416.1 L1033.7 418.1 L1033.9 420.1 L1034.2 422.1 L1034.5 424.1 L1035 426.1 L1035.5 428.1 L1036.1 430 L1036.8 432 L1037.6 433.9 L1038.5 435.7 L1039.4 437.5 L1040.4 439.3 L1041.5 441.1 L1042.6 442.8 L1043.8 444.5 L1045.1 446.1 L1046.5 447.7 L1047.9 449.2 L1049.3 450.6 L1050.9 452.1 L1052.5 453.4 L1054.1 454.7 L1055.8 455.9 L1057.5 457.1 L1059.3 458.2 L1061.2 459.2 L1063 460.2 L1065 461 L1066.9 461.9 L1068.9 462.6 L1070.9 463.3 L1072.9 463.9 L1075 464.4 L1077 464.8 L1079.1 465.2 L1081.2 465.4 L1083.4 465.6 L1085.5 465.8 L1087.6 465.8 L1089.7 465.8 L1091.8 465.6 L1094 465.4 L1096.1 465.2 L1098.2 464.8 L1100.2 464.4 L1102.3 463.9 L1104.3 463.3 L1106.3 462.6 L1108.3 461.9 L1110.2 461 L1112.2 460.2 L1114 459.2 L1115.9 458.2 L1117.7 457.1 L1119.4 455.9 L1121.1 454.7 L1122.7 453.4 L1124.3 452.1 L1125.9 450.6 L1127.3 449.2 L1128.7 447.7 L1130.1 446.1 L1131.4 444.5 L1132.6 442.8 L1133.7 441.1 L1134.8 439.3 L1135.8 437.5 L1136.7 435.7 L1137.6 433.9 L1138.4 432 L1139.1 430 L1139.7 428.1 L1140.2 426.1 L1140.7 424.1 L1141 422.1 L1141.3 420.1 L1141.5 418.1 L1141.7 416.1 L1141.7 414.1 L1141.7 412ZM1112.4 415.8 L1112.3 416.8 L1112.2 417.8 L1112 418.7 L1111.8 419.7 L1111.6 420.6 L1111.3 421.6 L1111 422.5 L1110.6 423.4 L1110.3 424.3 L1109.8 425.2 L1109.4 426.1 L1108.9 426.9 L1108.4 427.8 L1107.8 428.6 L1107.3 429.4 L1106.6 430.1 L1106 430.9 L1105.3 431.6 L1104.6 432.2 L1103.9 432.9 L1103.2 433.5 L1102.4 434.1 L1101.6 434.7 L1100.8 435.2 L1100 435.7 L1099.2 436.2 L1098.3 436.6 L1097.4 437 L1096.5 437.4 L1095.6 437.7 L1094.7 438 L1093.8 438.2 L1092.8 438.4 L1091.9 438.6 L1090.9 438.7 L1090 438.8 L1089 438.9 L1088 438.9 L1087.1 438.9 L1086.1 438.8 L1085.2 438.7 L1084.2 438.6 L1083.3 438.4 L1082.3 438.2 L1081.4 438 L1080.5 437.7 L1079.6 437.4 L1078.7 437 L1077.8 436.6 L1076.9 436.2 L1076.1 435.7 L1075.3 435.2 L1074.5 434.7 L1073.7 434.1 L1072.9 433.5 L1072.2 432.9 L1071.5 432.2 L1070.8 431.6 L1070.1 430.9 L1069.5 430.1 L1068.8 429.4 L1068.3 428.6 L1067.7 427.8 L1067.2 426.9 L1066.7 426.1 L1066.3 425.2 L1065.8 424.3 L1065.5 423.4 L1065.1 422.5 L1064.8 421.6 L1064.5 420.6 L1064.3 419.7 L1064.1 418.7 L1063.9 417.8 L1063.8 416.8 L1063.7 415.8 L1063.6 414.8 L1063.6 413.9 L1063.6 412.9 L1063.7 411.9 L1063.8 410.9 L1063.9 409.9 L1064.1 409 L1064.3 408 L1064.5 407.1 L1064.8 406.1 L1065.1 405.2 L1065.5 404.3 L1065.8 403.4 L1066.3 402.5 L1066.7 401.6 L1067.2 400.8 L1067.7 399.9 L1068.3 399.1 L1068.8 398.3 L1069.5 397.6 L1070.1 396.8 L1070.8 396.1 L1071.5 395.5 L1072.2 394.8 L1072.9 394.2 L1073.7 393.6 L1074.5 393 L1075.3 392.5 L1076.1 392 L1076.9 391.5 L1077.8 391.1 L1078.7 390.7 L1079.6 390.3 L1080.5 390 L1081.4 389.7 L1082.3 389.5 L1083.3 389.3 L1084.2 389.1 L1085.2 389 L1086.1 388.9 L1087.1 388.8 L1088 388.8 L1089 388.8 L1090 388.9 L1090.9 389 L1091.9 389.1 L1092.8 389.3 L1093.8 389.5 L1094.7 389.7 L1095.6 390 L1096.5 390.3 L1097.4 390.7 L1098.3 391.1 L1099.2 391.5 L1100 392 L1100.8 392.5 L1101.6 393 L1102.4 393.6 L1103.2 394.2 L1103.9 394.8 L1104.6 395.5 L1105.3 396.1 L1106 396.8 L1106.6 397.6 L1107.3 398.3 L1107.8 399.1 L1108.4 399.9 L1108.9 400.8 L1109.4 401.6 L1109.8 402.5 L1110.3 403.4 L1110.6 404.3 L1111 405.2 L1111.3 406.1 L1111.6 407.1 L1111.8 408 L1112 409 L1112.2 409.9 L1112.3 410.9 L1112.4 411.9 L1112.5 412.9 L1112.5 413.9 L1112.5 414.8ZM1305.3 391.3 L1302.5 390 L1299.3 388.9 L1296.2 387.9 L1293.3 387.1 L1290.7 386.4 L1288.1 385.9 L1285.4 385.6 L1282.8 385.4 L1280.1 385.3 L1277.5 385.3 L1274.8 385.3 L1272.1 385.4 L1269.3 385.5 L1266.6 385.8 L1264 386.3 L1261.7 387.1 L1259.5 388.2 L1257.5 389.5 L1255.5 391 L1253.8 392.7 L1252.2 394.5 L1250.8 396.3 L1249.6 398.2 L1248.6 400.3 L1247.8 402.5 L1247.2 404.7 L1246.8 406.9 L1246.5 409 L1246.4 411.1 L1246.4 413.2 L1246.7 415.2 L1247 417.3 L1247.6 419.2 L1248.4 421.1 L1249.3 422.9 L1250.4 424.7 L1251.6 426.4 L1253.1 428 L1254.8 429.5 L1256.9 430.9 L1259.5 432.1 L1262.6 433.2 L1265.9 434.2 L1269.3 435.2 L1272.4 436 L1275.1 436.9 L1277.3 437.7 L1279.4 438.5 L1281.2 439.2 L1282.7 439.9 L1283.9 440.6 L1284.8 441.2 L1285.4 441.8 L1285.6 442.5 L1285.6 443 L1285.2 443.6 L1284.6 444 L1283.6 444.2 L1282.3 444.3 L1280.6 444.3 L1278.6 444.2 L1276.3 443.9 L1273.9 443.5 L1271.4 443 L1268.6 442 L1265.5 440.5 L1262.1 438.8 L1258.9 437.4 L1255.8 436.6 L1253.2 436.9 L1250.8 438.6 L1248.4 441.3 L1246.2 444.7 L1244.5 448.4 L1243.5 451.8 L1243.5 454.5 L1244.6 456.6 L1246.7 458.4 L1249.6 460 L1252.8 461.3 L1256.2 462.5 L1259.3 463.6 L1262.3 464.5 L1265.5 465.3 L1268.8 465.9 L1272.1 466.3 L1275.4 466.6 L1278.7 466.7 L1282 466.6 L1285.5 466.3 L1289 465.9 L1292.3 465.3 L1295.4 464.5 L1298.1 463.6 L1300.4 462.5 L1302.3 461.3 L1304 459.9 L1305.4 458.4 L1306.7 456.8 L1307.9 455.1 L1308.9 453.3 L1309.8 451.3 L1310.4 449.3 L1310.9 447.2 L1311.3 445.1 L1311.5 443 L1311.6 440.9 L1311.5 438.8 L1311.2 436.7 L1310.9 434.7 L1310.3 432.7 L1309.7 430.9 L1308.9 429.2 L1307.9 427.7 L1306.8 426.2 L1305.6 424.8 L1304.3 423.6 L1303 422.4 L1301.6 421.4 L1300.3 420.5 L1298.8 419.7 L1297.2 419 L1295.4 418.3 L1293.3 417.5 L1290.7 416.7 L1287.7 415.8 L1284.5 414.9 L1281.3 414.1 L1278.5 413.3 L1276.3 412.6 L1274.7 412 L1273.5 411.4 L1272.6 410.9 L1272 410.5 L1271.6 410 L1271.4 409.6 L1271.2 409.1 L1271.2 408.6 L1271.4 408 L1271.9 407.6 L1272.7 407.3 L1273.9 407.2 L1275.7 407.4 L1278 407.8 L1280.7 408.3 L1283.4 408.9 L1286.1 409.6 L1288.4 410.2 L1290.4 411 L1292.2 412.2 L1293.9 413.4 L1295.5 414.3 L1297.1 414.6 L1298.8 413.9 L1300.7 411.9 L1303 408.9 L1305.2 405.2 L1307.1 401.3 L1308.3 397.8 L1308.5 395 L1307.4 393ZM1186.1 463.9 L1187.7 464.3 L1189.2 464.6 L1190.7 464.9 L1192.3 465.1 L1193.9 465.3 L1195.4 465.4 L1197 465.4 L1198.6 465.4 L1200.1 465.3 L1201.7 465.1 L1203.3 464.9 L1204.8 464.6 L1206.3 464.3 L1207.9 463.9 L1209.4 463.5 L1210.8 462.9 L1212.3 462.4 L1213.7 461.7 L1215.2 461.1 L1216.5 460.3 L1217.9 459.5 L1219.2 458.7 L1220.5 457.8 L1221.8 456.9 L1223 455.9 L1224.2 454.8 L1225.3 453.8 L1226.4 452.6 L1227.4 451.5 L1228.4 450.3 L1229.4 449 L1230.3 447.7 L1231.1 446.4 L1231.9 445.1 L1232.6 443.7 L1233.3 442.3 L1234 440.9 L1234.5 439.4 L1235 437.9 L1235.5 436.4 L1235.9 434.9 L1236.2 433.4 L1236.5 431.9 L1236.7 430.3 L1236.9 428.8 L1237 427.2 L1237 425.6 L1237 424.1 L1236.9 422.5 L1236.7 421 L1236.5 419.4 L1236.2 417.9 L1235.9 416.4 L1235.5 414.9 L1235 413.4 L1234.5 411.9 L1234 410.4 L1233.3 409 L1232.6 407.6 L1231.9 406.2 L1231.1 404.9 L1230.3 403.6 L1229.4 402.3 L1228.4 401 L1227.4 399.8 L1226.4 398.7 L1225.3 397.5 L1224.2 396.5 L1223 395.4 L1221.8 394.4 L1220.5 393.5 L1219.2 392.6 L1217.9 391.8 L1216.5 391 L1215.2 390.2 L1213.7 389.6 L1212.3 388.9 L1210.8 388.4 L1209.4 387.8 L1207.9 387.4 L1206.3 387 L1204.8 386.7 L1203.3 386.4 L1201.7 386.2 L1200.1 386 L1198.6 385.9 L1197 385.9 L1195.4 385.9 L1193.9 386 L1192.3 386.2 L1190.7 386.4 L1189.2 386.7 L1187.7 387 L1186.1 387.4 L1184.6 387.8 L1183.2 388.4 L1181.7 388.9 L1180.5 389.4 L1180.5 385.9 L1152.8 385.9 L1152.8 486.6 L1180.5 486.6 L1180.5 461.9 L1181.7 462.4 L1183.2 462.9 L1184.6 463.5ZM1209.2 427.6 L1209.1 428.3 L1209 428.9 L1208.9 429.5 L1208.7 430.2 L1208.6 430.8 L1208.4 431.4 L1208.2 432 L1207.9 432.6 L1207.7 433.1 L1207.4 433.7 L1207.2 434.3 L1206.8 434.8 L1206.5 435.3 L1206.2 435.9 L1205.8 436.4 L1205.5 436.8 L1205.1 437.3 L1204.7 437.7 L1204.3 438.2 L1203.8 438.6 L1203.4 439 L1202.9 439.3 L1202.4 439.7 L1202 440 L1201.5 440.3 L1201 440.6 L1200.5 440.9 L1199.9 441.1 L1199.4 441.3 L1198.9 441.5 L1198.3 441.6 L1197.8 441.8 L1197.2 441.9 L1196.7 442 L1196.1 442 L1195.6 442.1 L1195 442.1 L1194.4 442.1 L1193.9 442 L1193.3 442 L1192.8 441.9 L1192.2 441.8 L1191.7 441.6 L1191.1 441.5 L1190.6 441.3 L1190.1 441.1 L1189.5 440.9 L1189 440.6 L1188.5 440.3 L1188 440 L1187.6 439.7 L1187.1 439.3 L1186.6 439 L1186.2 438.6 L1185.7 438.2 L1185.3 437.7 L1184.9 437.3 L1184.5 436.8 L1184.2 436.4 L1183.8 435.9 L1183.5 435.3 L1183.2 434.8 L1182.8 434.3 L1182.6 433.7 L1182.3 433.1 L1182.1 432.6 L1181.8 432 L1181.6 431.4 L1181.4 430.8 L1181.3 430.2 L1181.1 429.5 L1181 428.9 L1180.9 428.3 L1180.8 427.6 L1180.8 427 L1180.8 426.3 L1180.8 425.7 L1180.8 425.1 L1180.8 424.4 L1180.8 423.8 L1180.9 423.1 L1181 422.5 L1181.1 421.9 L1181.3 421.2 L1181.4 420.6 L1181.6 420 L1181.8 419.4 L1182.1 418.8 L1182.3 418.3 L1182.6 417.7 L1182.8 417.1 L1183.2 416.6 L1183.5 416.1 L1183.8 415.5 L1184.2 415 L1184.5 414.6 L1184.9 414.1 L1185.3 413.7 L1185.7 413.2 L1186.2 412.8 L1186.6 412.4 L1187.1 412.1 L1187.6 411.7 L1188 411.4 L1188.5 411.1 L1189 410.8 L1189.5 410.5 L1190.1 410.3 L1190.6 410.1 L1191.1 409.9 L1191.7 409.8 L1192.2 409.6 L1192.8 409.5 L1193.3 409.4 L1193.9 409.4 L1194.4 409.3 L1195 409.3 L1195.6 409.3 L1196.1 409.4 L1196.7 409.4 L1197.2 409.5 L1197.8 409.6 L1198.3 409.8 L1198.9 409.9 L1199.4 410.1 L1199.9 410.3 L1200.5 410.5 L1201 410.8 L1201.5 411.1 L1202 411.4 L1202.4 411.7 L1202.9 412.1 L1203.4 412.4 L1203.8 412.8 L1204.3 413.2 L1204.7 413.7 L1205.1 414.1 L1205.5 414.6 L1205.8 415 L1206.2 415.5 L1206.5 416.1 L1206.8 416.6 L1207.2 417.1 L1207.4 417.7 L1207.7 418.3 L1207.9 418.8 L1208.2 419.4 L1208.4 420 L1208.6 420.6 L1208.7 421.2 L1208.9 421.9 L1209 422.5 L1209.1 423.1 L1209.2 423.8 L1209.2 424.4 L1209.2 425.1 L1209.2 425.7 L1209.2 426.3 L1209.2 427Z"/>

</svg>
</body></html>
